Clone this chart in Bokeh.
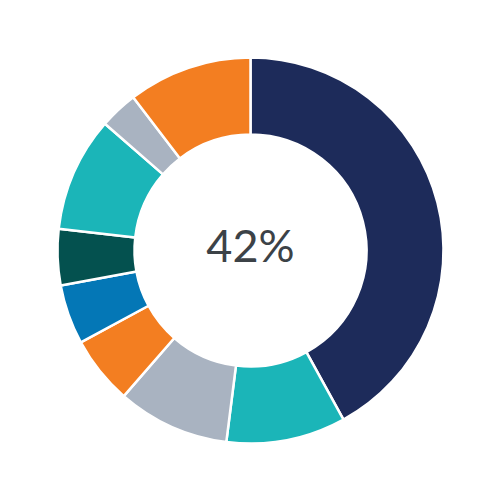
import math
from bokeh.plotting import figure
from bokeh.models import ColumnDataSource, Range1d
from bokeh.core.properties import value
from bokeh.embed import file_html
from bokeh.resources import INLINE

categories = ["A", "B", "C", "D", "E", "F", "G", "H", "I"]
shares = [42.0, 10.0, 9.4, 5.7, 5.0, 4.7, 9.6, 3.2, 10.4]
colors = ["#1d2b5a", "#1bb5b8", "#a9b3c1", "#f37e21", "#0477b6",
          "#04514f", "#1bb5b8", "#a9b3c1", "#f37e21"]
center_label = "42%"

total = sum(shares)
starts, ends = [], []
cum = 0.0
for s in shares:
    starts.append(math.pi / 2 - 2 * math.pi * cum / total)
    cum += s
    ends.append(math.pi / 2 - 2 * math.pi * cum / total)

src = ColumnDataSource(dict(cat=categories, share=shares, start=starts,
                            end=ends, color=colors))

W = 484
p = figure(width=W, height=W, output_backend="svg", toolbar_location=None,
           x_range=Range1d(-250, W - 250), y_range=Range1d(250 - W, 250),
           min_border=0)
p.axis.visible = False
p.grid.visible = False
p.outline_line_color = None
p.background_fill_color = "white"

p.annular_wedge(x=0, y=0, inner_radius=116, outer_radius=193,
                start_angle="start", end_angle="end", direction="clock",
                fill_color="color", line_color="white", line_width=2.5,
                source=src)

p.text(x=[0], y=[6], text=[center_label], text_align="center",
       text_baseline="middle", text_font=value("Lato"),
       text_font_size="45px", text_color="#3c4247")

open("out.html", "w").write(file_html(p, INLINE))
